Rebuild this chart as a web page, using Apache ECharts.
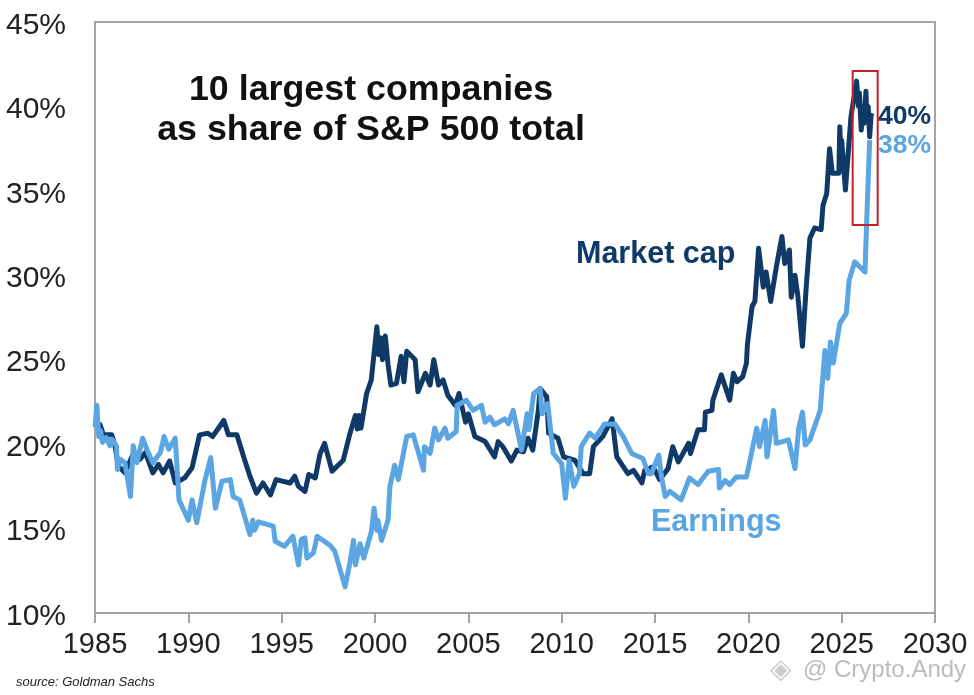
<!DOCTYPE html>
<html><head><meta charset="utf-8">
<style>html,body{margin:0;padding:0;background:#fff}#c{width:974px;height:695px}</style>
<script src="https://cdn.jsdelivr.net/npm/echarts@6/dist/echarts.min.js"></script>
</head><body><div id="c"></div>
<script>
const xTicks = {min:1985,max:2030,step:5};
const yTicks = {min:10,max:45,step:5};
const marketCap = [[1985,21.25],[1985.27,21.15],[1985.45,20.55],[1985.9,20.55],[1986.07,19.9],[1986.25,18.7],[1986.6,18.3],[1987,19.3],[1987.4,19.1],[1987.7,19.5],[1988.1,18.3],[1988.4,18.8],[1988.65,18.3],[1989,19],[1989.3,17.7],[1989.8,18],[1990.2,18.6],[1990.6,20.55],[1991.05,20.65],[1991.3,20.45],[1991.9,21.4],[1992.15,20.55],[1992.6,20.55],[1992.95,19.3],[1993.3,18.1],[1993.65,17.1],[1994,17.7],[1994.4,17],[1994.7,17.9],[1995.45,17.7],[1995.7,18.1],[1995.9,17.5],[1996.25,17.2],[1996.45,18.2],[1996.8,18],[1997.05,19.4],[1997.3,20.05],[1997.7,18.4],[1998.3,19.05],[1998.65,20.6],[1998.95,21.7],[1999.05,20.9],[1999.15,21.7],[1999.25,20.95],[1999.55,23],[1999.8,23.8],[2000.1,26.95],[2000.2,25.3],[2000.3,26.3],[2000.4,25],[2000.55,26.4],[2000.7,24.7],[2000.85,23.5],[2001.15,23.6],[2001.4,25.2],[2001.55,23.7],[2001.7,25.5],[2002.15,25],[2002.3,23.1],[2002.7,24.2],[2002.95,23.5],[2003.15,25],[2003.4,23.5],[2003.65,23.8],[2003.9,22.9],[2004.3,22.3],[2004.5,23],[2004.85,21.3],[2005,21.8],[2005.35,20.45],[2005.9,20.15],[2006.4,19.25],[2006.6,20.15],[2006.85,19.85],[2007.3,19],[2007.6,19.65],[2007.95,19.55],[2008.2,20.35],[2008.45,19.65],[2008.75,22],[2008.85,23.3],[2009.2,22.8],[2009.3,20.65],[2009.8,20.35],[2010.1,19.25],[2010.7,19.05],[2011.15,18.25],[2011.5,18.25],[2011.7,19.85],[2012.2,20.45],[2012.7,21.5],[2012.95,19.25],[2013.55,18.25],[2013.85,18.45],[2014.3,17.7],[2014.45,18.45],[2014.9,18.65],[2015.25,17.9],[2015.7,18.55],[2015.95,19.85],[2016.25,18.95],[2016.8,20.05],[2016.9,19.45],[2017.3,20.85],[2017.65,20.85],[2017.7,21.9],[2018.05,22],[2018.1,22.6],[2018.55,24.1],[2019,22.6],[2019.2,24.2],[2019.4,23.7],[2019.7,24],[2019.9,24.8],[2019.95,25.9],[2020.2,28.15],[2020.35,28.45],[2020.55,31.6],[2020.8,29.3],[2020.95,30.2],[2021.2,28.45],[2021.5,30.5],[2021.8,32.3],[2021.95,30.7],[2022.2,31.5],[2022.3,28.7],[2022.5,30],[2022.65,28.8],[2022.9,25.8],[2023.1,29.3],[2023.3,32.2],[2023.55,32.8],[2023.9,32.7],[2024,34.15],[2024.2,34.85],[2024.35,37.5],[2024.5,36.05],[2024.85,36.05],[2024.9,38.8],[2024.95,37.2],[2025,38],[2025.2,35.05],[2025.5,39.4],[2025.8,41.5],[2025.9,40],[2025.95,40.8],[2026.05,38.6],[2026.12,40],[2026.2,39],[2026.3,40.9],[2026.35,39.2],[2026.42,40],[2026.5,38.2],[2026.58,39.5],[2026.65,39.6]];
const earnings = [[1985,21],[1985.1,22.3],[1985.2,20.45],[1985.3,20.8],[1985.4,20.1],[1985.6,20.4],[1985.8,19.9],[1985.9,20.3],[1986.15,19.9],[1986.2,18.5],[1986.35,19.1],[1986.6,18.9],[1986.9,16.9],[1987.05,19.9],[1987.25,18.9],[1987.55,20.35],[1987.85,19.5],[1988.1,18.9],[1988.5,19.5],[1988.7,20.45],[1988.95,19.7],[1989.3,20.35],[1989.5,16.7],[1990,15.5],[1990.2,16.7],[1990.45,15.35],[1990.9,17.9],[1991.2,19.2],[1991.45,16.2],[1991.8,17.8],[1992.25,17.9],[1992.4,16.9],[1992.75,16.7],[1993.3,14.65],[1993.45,15.5],[1993.55,14.9],[1993.75,15.4],[1994.55,15.15],[1994.65,14.25],[1995.15,13.95],[1995.6,14.55],[1995.9,12.85],[1996.05,14.35],[1996.25,14.45],[1996.35,13.25],[1996.7,13.55],[1996.9,14.55],[1997.6,14],[1997.85,13.65],[1998.4,11.55],[1998.65,12.95],[1998.85,14.3],[1998.95,12.85],[1999.2,14.1],[1999.4,13.25],[1999.8,14.8],[1999.95,16.2],[2000.1,14.9],[2000.15,15.5],[2000.35,14.3],[2000.7,15.5],[2000.8,17.5],[2001.05,18.75],[2001.25,17.9],[2001.7,20.45],[2002.05,20.55],[2002.6,18.45],[2002.65,19.85],[2002.95,19.45],[2003.2,20.95],[2003.4,20.25],[2003.75,20.95],[2003.9,20.35],[2004.35,20.75],[2004.4,22.3],[2004.9,22.6],[2005.25,22],[2005.7,22.3],[2005.9,21.3],[2006.15,21.6],[2006.4,21.15],[2006.95,21.5],[2007.15,21.2],[2007.4,22],[2007.85,19.65],[2008.15,21.8],[2008.25,20.85],[2008.5,23],[2008.85,23.3],[2008.95,21.8],[2009.25,22.4],[2009.55,19.45],[2010,18.85],[2010.2,16.8],[2010.4,19.05],[2010.65,17.5],[2010.95,18.25],[2011.05,19.85],[2011.5,20.65],[2011.8,20.35],[2012.3,21.2],[2012.85,21.2],[2013.3,20.45],[2013.75,19.45],[2014.35,19.15],[2014.65,18.25],[2014.8,18.25],[2015.2,19.35],[2015.35,18.05],[2015.55,16.9],[2015.8,17.2],[2016.4,16.7],[2016.85,18],[2017.3,17.6],[2017.85,18.4],[2018.4,18.5],[2018.45,17.4],[2018.75,17.85],[2019,17.6],[2019.35,18.05],[2019.9,18.05],[2020.45,20.95],[2020.6,19.85],[2020.9,21.4],[2021,19.25],[2021.35,22],[2021.5,20.05],[2022.15,20.25],[2022.5,18.55],[2022.7,20.95],[2022.9,21.9],[2023.05,19.95],[2023.3,20.25],[2023.85,22],[2024.1,25.55],[2024.25,23.9],[2024.4,26.05],[2024.55,24.8],[2024.9,27.15],[2025.25,27.75],[2025.4,29.7],[2025.7,30.8],[2026.25,30.2],[2026.35,33.5],[2026.5,38]];
const highlightBox = {x:[2025.59,2026.93],y:[32.98,42.1]};
const titleLines = ['10 largest companies','as share of S&P 500 total'];
const DARK='#0f3a68', LIGHT='#5aa5e2', FONT='"Liberation Sans",Arial,sans-serif';
const txt=(x,y,text,size,color,extra)=>({type:'text',x,y:y-size/2,silent:true,style:Object.assign({text,fontFamily:FONT,fontSize:size,fill:color},extra||{})});
const chart=echarts.init(document.getElementById('c'),null,{renderer:'canvas'});
chart.setOption({
  animation:false,backgroundColor:'#fff',
  grid:{left:95,right:39,top:22,bottom:82,show:true,borderColor:'#a3a3a3',borderWidth:2,backgroundColor:'#fff'},
  xAxis:{type:'value',min:xTicks.min,max:xTicks.max,interval:xTicks.step,splitLine:{show:false},
    axisLine:{show:true,onZero:false,lineStyle:{color:'#a3a3a3',width:2}},
    axisTick:{show:true,length:10,lineStyle:{color:'#a3a3a3',width:2}},
    axisLabel:{margin:17,fontFamily:FONT,fontSize:29,color:'#222',formatter:v=>String(v),showMaxLabel:true,showMinLabel:true,hideOverlap:false}},
  yAxis:{type:'value',min:yTicks.min,max:yTicks.max,interval:yTicks.step,splitLine:{show:false},
    axisLine:{show:true,onZero:false,lineStyle:{color:'#a3a3a3',width:2}},axisTick:{show:false},
    axisLabel:{margin:29,fontFamily:FONT,fontSize:30,color:'#222',verticalAlign:'top',lineHeight:7,formatter:'{value}%'}},
  series:[
    {name:'Market cap',type:'line',data:marketCap,showSymbol:false,smooth:false,lineStyle:{color:DARK,width:5,join:'round'},z:2,
     markArea:{silent:true,itemStyle:{color:'rgba(0,0,0,0)',borderColor:'#c2222e',borderWidth:2},z:5,
      data:[[{xAxis:highlightBox.x[0],yAxis:highlightBox.y[1]},{xAxis:highlightBox.x[1],yAxis:highlightBox.y[0]}]]}},
    {name:'Earnings',type:'line',data:earnings,showSymbol:false,smooth:false,lineStyle:{color:LIGHT,width:5,join:'round'},z:3}
  ],
  graphic:[
    txt(371,90,titleLines[0],35.8,'#111',{fontWeight:'bold',textAlign:'center'}),
    txt(371,130,titleLines[1],35.8,'#111',{fontWeight:'bold',textAlign:'center'}),
    txt(576,254,'Market cap',30.5,DARK,{fontWeight:'bold'}),
    txt(651,522,'Earnings',30.5,LIGHT,{fontWeight:'bold'}),
    txt(878,116,'40%',26.5,DARK,{fontWeight:'bold'}),
    txt(878,145,'38%',26.5,LIGHT,{fontWeight:'bold'}),
    txt(16,682,'source: Goldman Sachs',13,'#222',{fontStyle:'italic'}),
    txt(770,671,'◈',28,'rgba(170,170,170,0.6)',{fontFamily:'"DejaVu Sans"'}),
    txt(803,670,'@ Crypto.Andy',24,'rgba(150,150,150,0.65)')
  ]
});
</script></body></html>
